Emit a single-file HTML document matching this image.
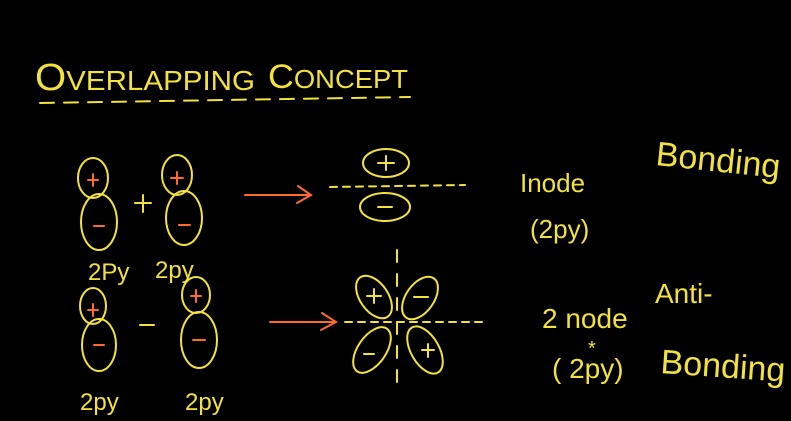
<!DOCTYPE html>
<html><head><meta charset="utf-8"><style>
html,body{margin:0;padding:0;background:#000;width:791px;height:421px;overflow:hidden}
svg{display:block}
text{font-family:"Liberation Sans",sans-serif;fill:#f3e23c;font-weight:300}
</style></head><body>
<svg width="791" height="421" viewBox="0 0 791 421" xmlns="http://www.w3.org/2000/svg">
<g fill="none" stroke="#f3e23c" stroke-width="2" stroke-linecap="round">
<line x1="40" y1="103" x2="410" y2="97" stroke-dasharray="14 10"/>
<ellipse cx="93" cy="178" rx="15" ry="20"/>
<ellipse cx="99" cy="222" rx="18" ry="28"/>
<ellipse cx="177" cy="175" rx="15" ry="20"/>
<ellipse cx="184" cy="218" rx="18" ry="27"/>
<line x1="143" y1="195" x2="143" y2="212"/><line x1="135" y1="203" x2="151" y2="203"/>
<ellipse cx="386" cy="163" rx="23" ry="14"/>
<ellipse cx="385" cy="207" rx="25" ry="14"/>
<line x1="330" y1="187" x2="465" y2="185" stroke-dasharray="7 6"/>
<line x1="378" y1="163" x2="394" y2="163"/><line x1="386" y1="156" x2="386" y2="170"/>
<line x1="378" y1="207" x2="392" y2="207"/>
<ellipse cx="93" cy="306" rx="13" ry="18"/>
<ellipse cx="99" cy="345" rx="17" ry="26"/>
<ellipse cx="196" cy="295" rx="14" ry="18"/>
<ellipse cx="199" cy="340" rx="18" ry="28"/>
<line x1="140" y1="325" x2="154" y2="325"/>
<line x1="397" y1="250" x2="397" y2="385" stroke-dasharray="12 12"/>
<line x1="345" y1="322" x2="485" y2="322" stroke-dasharray="7 6"/>
<ellipse cx="374" cy="297" rx="14" ry="24" transform="rotate(-35 374 297)"/>
<ellipse cx="420" cy="298" rx="14" ry="24" transform="rotate(35 420 298)"/>
<ellipse cx="372" cy="350" rx="14" ry="26" transform="rotate(35 372 350)"/>
<ellipse cx="425" cy="350" rx="14" ry="26" transform="rotate(-30 425 350)"/>
<line x1="367" y1="296" x2="381" y2="296"/><line x1="374" y1="289" x2="374" y2="303"/>
<line x1="414" y1="297" x2="428" y2="297"/>
<line x1="364" y1="354" x2="374" y2="354"/>
<line x1="422" y1="350" x2="434" y2="350"/><line x1="428" y1="344" x2="428" y2="357"/>
</g>
<g stroke="#ff6a2a" stroke-width="2" fill="none" stroke-linecap="round">
<line x1="245" y1="195" x2="310" y2="195"/><polyline points="298,186 311,195 297,203"/>
<line x1="270" y1="322" x2="335" y2="322"/><polyline points="322,313 336,322 321,330"/>
<line x1="88" y1="180" x2="98" y2="180"/><line x1="93" y1="174" x2="93" y2="186"/>
<line x1="171" y1="178" x2="183" y2="178"/><line x1="177" y1="172" x2="177" y2="184"/>
<line x1="94" y1="226" x2="104" y2="226"/>
<line x1="179" y1="225" x2="190" y2="225"/>
<line x1="88" y1="310" x2="98" y2="310"/><line x1="93" y1="304" x2="93" y2="316"/>
<line x1="94" y1="345" x2="104" y2="345"/>
<line x1="191" y1="296" x2="201" y2="296"/><line x1="196" y1="290" x2="196" y2="302"/>
<line x1="193" y1="340" x2="205" y2="340"/>
</g>
<text x="35" y="90" font-size="38" textLength="220" lengthAdjust="spacingAndGlyphs">O<tspan font-size="28">VERLAPPING</tspan></text>
<text x="268" y="88" font-size="34" textLength="140" lengthAdjust="spacingAndGlyphs">C<tspan font-size="26">ONCEPT</tspan></text>
<text x="88" y="280" font-size="24">2Py</text>
<text x="155" y="278" font-size="24">2py</text>
<text x="80" y="410" font-size="24">2py</text>
<text x="185" y="410" font-size="24">2py</text>
<text x="520" y="192" font-size="26">Inode</text>
<text x="530" y="238" font-size="26">(2py)</text>
<text x="655" y="165" font-size="34" transform="rotate(6 655 165)">Bonding</text>
<text x="542" y="328" font-size="28">2 node</text>
<text x="655" y="303" font-size="28">Anti-</text>
<text x="552" y="378" font-size="28">( 2py)</text>
<text x="588" y="355" font-size="20">*</text>
<text x="660" y="373" font-size="34" transform="rotate(4 660 373)">Bonding</text>
</svg>
</body></html>
